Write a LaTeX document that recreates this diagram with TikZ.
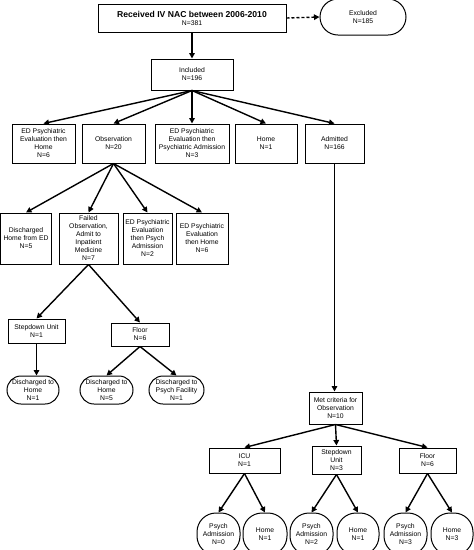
\documentclass[tikz,border=0pt]{standalone}
\usepackage{fontspec}
\setmainfont{Liberation Sans}
\usetikzlibrary{arrows.meta}

\begin{document}
\begin{tikzpicture}[x=1pt,y=-1pt,
  box/.style={draw=black,line width=1pt,align=center,inner sep=0.5pt,font=\fontsize{6.8}{8}\selectfont},
  term/.style={box,rounded corners=14pt},
  arr/.style={line width=1.4pt,-{Triangle[length=5.5pt,width=5.5pt]}}]
\useasboundingbox (0,0) rectangle (474,550);
\node [box,minimum width=188pt,minimum height=28pt] (recv) at (192,18) {{\fontsize{8.6}{10}\selectfont\bfseries Received IV NAC between 2006-2010}\\N=381};
\node [term,rounded corners=18pt,minimum width=86pt,minimum height=36pt] (excl) at (363,17) {Excluded\\N=185};
\node [box,minimum width=82pt,minimum height=31pt] (incl) at (192,74.5) {Included\\N=196};
\node [box,minimum width=63pt,minimum height=39pt] (edhome) at (43.5,143.5) {ED Psychiatric\\Evaluation then\\Home\\N=6};
\node [box,minimum width=63pt,minimum height=39pt] (obs) at (113.5,143.5) {Observation\\N=20};
\node [box,minimum width=74pt,minimum height=39pt] (edadm) at (192,143.5) {ED Psychiatric\\Evaluation then\\Psychiatric Admission\\N=3};
\node [box,minimum width=62pt,minimum height=39pt] (home) at (266,143.5) {Home\\N=1};
\node [box,minimum width=59pt,minimum height=39pt] (adm) at (334.5,143.5) {Admitted\\N=166};
\node [box,minimum width=51pt,minimum height=51pt] (dis) at (26,238.5) {Discharged\\Home from ED\\N=5};
\node [box,minimum width=59pt,minimum height=51pt] (failed) at (88.5,238.5) {Failed\\Observation,\\Admit to\\Inpatient\\Medicine\\N=7};
\node [box,minimum width=49pt,minimum height=51pt] (edpa) at (147.5,238.5) {ED Psychiatric\\Evaluation\\then Psych\\Admission\\N=2};
\node [box,minimum width=52pt,minimum height=51pt] (edph) at (202,238.5) {ED Psychiatric\\Evaluation\\then Home\\N=6};
\node [box,minimum width=57pt,minimum height=24pt] (sd) at (36.5,331) {Stepdown Unit\\N=1};
\node [box,minimum width=58pt,minimum height=23pt] (floor) at (140,334.5) {Floor\\N=6};
\node [term,minimum width=52pt,minimum height=28pt] (dhone) at (33,390) {Discharged to\\Home\\N=1};
\node [term,minimum width=53pt,minimum height=28pt] (dhfive) at (106.5,390) {Discharged to\\Home\\N=5};
\node [term,minimum width=55pt,minimum height=28pt] (dpf) at (176.5,390) {Discharged to\\Psych Facility\\N=1};
\node [box,minimum width=53pt,minimum height=32pt] (met) at (335.5,408) {Met criteria for\\Observation\\N=10};
\node [box,minimum width=71pt,minimum height=25pt] (icu) at (244.5,460.5) {ICU\\N=1};
\node [box,minimum width=49pt,minimum height=28pt] (sdu) at (336.5,460) {Stepdown\\Unit\\N=3};
\node [box,minimum width=57pt,minimum height=25pt] (flr) at (427.5,460.5) {Floor\\N=6};
\node [term,rounded corners=19pt,minimum width=43pt,minimum height=42pt] (pazero) at (218.5,534) {Psych\\Admission\\N=0};
\node [term,rounded corners=19pt,minimum width=44pt,minimum height=42pt] (hone) at (265,534) {Home\\N=1};
\node [term,rounded corners=19pt,minimum width=43pt,minimum height=42pt] (patwo) at (311.5,534) {Psych\\Admission\\N=2};
\node [term,rounded corners=19pt,minimum width=42pt,minimum height=42pt] (honeb) at (358,534) {Home\\N=1};
\node [term,rounded corners=19pt,minimum width=43pt,minimum height=42pt] (pathree) at (405.5,534) {Psych\\Admission\\N=3};
\node [term,rounded corners=19pt,minimum width=42pt,minimum height=42pt] (hthree) at (452,534) {Home\\N=3};
\draw [arr,dash pattern=on 3pt off 2pt] (recv.east) -- (excl.west);
\draw [arr] (recv.south) -- (incl.north);
\draw [arr] (incl.south) -- (edhome.north);
\draw [arr] (incl.south) -- (obs.north);
\draw [arr] (incl.south) -- (edadm.north);
\draw [arr] (incl.south) -- (home.north);
\draw [arr] (incl.south) -- (adm.north);
\draw [arr] (obs.south) -- (dis.north);
\draw [arr] (obs.south) -- (failed.north);
\draw [arr] (obs.south) -- (edpa.north);
\draw [arr] (obs.south) -- (edph.north);
\draw [arr] (failed.south) -- (sd.north);
\draw [arr] (failed.south) -- (floor.north);
\draw [arr] (sd.south) -- (sd.south|-dhone.north);
\draw [arr] (floor.south) -- (dhfive.north);
\draw [arr] (floor.south) -- (dpf.north);
\draw [arr] (adm.south) -- (adm.south|-met.north);
\draw [arr] (met.south) -- (icu.north);
\draw [arr] (met.south) -- (sdu.north);
\draw [arr] (met.south) -- (flr.north);
\draw [arr] (icu.south) -- (pazero.north);
\draw [arr] (icu.south) -- (hone.north);
\draw [arr] (sdu.south) -- (patwo.north);
\draw [arr] (sdu.south) -- (honeb.north);
\draw [arr] (flr.south) -- (pathree.north);
\draw [arr] (flr.south) -- (hthree.north);
\end{tikzpicture}
\end{document}
